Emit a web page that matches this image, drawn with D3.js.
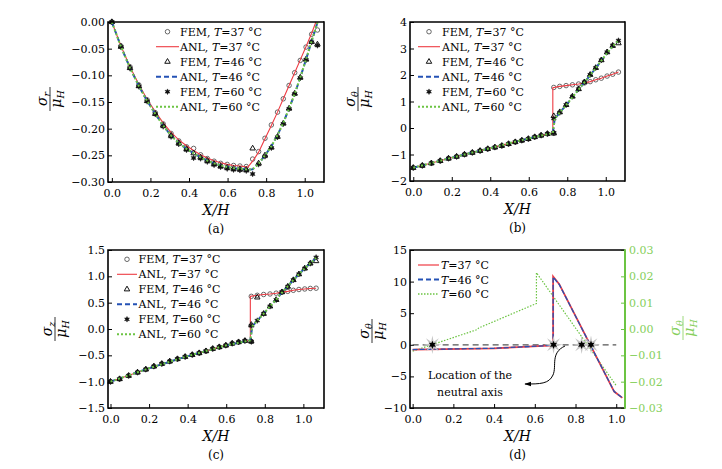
<!DOCTYPE html>
<html><head><meta charset="utf-8">
<script src="https://cdn.jsdelivr.net/npm/d3@7"></script>
<style>body{margin:0;background:#fff}svg{display:block}text{font-family:"DejaVu Serif",serif}</style>
</head><body><svg id="c" width="722" height="469"></svg>
<script>
// ---------------- DATA ----------------
const xTicks = [0, 0.2, 0.4, 0.6, 0.8, 1.0];
const aYTicks = [-0.30, -0.25, -0.20, -0.15, -0.10, -0.05, 0.00];
const bYTicks = [-2, -1, 0, 1, 2, 3, 4];
const cYTicks = [-1.5, -1.0, -0.5, 0.0, 0.5, 1.0, 1.5];
const dYTicks = [-10, -5, 0, 5, 10, 15];
const dY2Ticks = [-0.03, -0.02, -0.01, 0.00, 0.01, 0.02, 0.03];
const legendLabels = ["FEM, ", "ANL, ", "FEM, ", "ANL, ", "FEM, ", "ANL, "];
const temps = ["37", "37", "46", "46", "60", "60"];

// FEM node positions
const femXBefore = [0,.047,.094,.14,.183,.225,.266,.307,.347,.387,.424,.46,.495,.53,.564,.598,.631,.664,.697,.73];
const femXAfter = [.761,.794,.827,.859,.889,.919,.948,.977,1.007,1.036,1.066];
const femXA = femXBefore.concat(femXAfter);
const femXBC = femXBefore.concat([.73], femXAfter);

// (a) sigma_r / mu_H
const aFem37 = [0,-.045,-.084,-.118,-.146,-.17,-.191,-.209,-.223,-.234,-.237,-.249,-.256,-.261,-.265,-.267,-.269,-.27,-.271,-.257,-.243,-.218,-.193,-.169,-.144,-.119,-.095,-.072,-.047,-.023,-.015];
const aFem46 = [0,-.046,-.086,-.12,-.148,-.172,-.194,-.213,-.227,-.238,-.246,-.254,-.26,-.266,-.27,-.273,-.275,-.276,-.277,-.237,-.265,-.25,-.235,-.215,-.19,-.162,-.134,-.104,-.07,-.037,-.042];
const aFem60 = [0,-.047,-.087,-.121,-.149,-.173,-.196,-.215,-.229,-.24,-.255,-.256,-.262,-.268,-.272,-.275,-.277,-.278,-.279,-.285,-.267,-.252,-.236,-.216,-.191,-.163,-.135,-.105,-.071,-.038,-.044];
const aAnl37X = [0,.047,.094,.14,.183,.225,.266,.307,.347,.387,.424,.46,.495,.53,.564,.598,.631,.664,.705,.73,.761,.794,.827,.859,.889,.919,.948,.977,1.007,1.036,1.058];
const aAnl37 = [0,-.045,-.084,-.117,-.145,-.168,-.189,-.207,-.221,-.232,-.241,-.249,-.255,-.26,-.264,-.267,-.269,-.27,-.272,-.261,-.244,-.219,-.194,-.169,-.144,-.119,-.095,-.071,-.046,-.021,0];
const aAnl46X = [0,.047,.094,.14,.183,.225,.266,.307,.347,.387,.424,.46,.495,.53,.564,.598,.631,.664,.705,.73,.761,.794,.827,.859,.889,.919,.948,.977,1.007,1.036,1.067];
const aAnl46 = [0,-.046,-.086,-.12,-.148,-.172,-.194,-.213,-.227,-.238,-.246,-.254,-.26,-.265,-.269,-.272,-.274,-.275,-.277,-.276,-.266,-.25,-.233,-.212,-.189,-.162,-.135,-.104,-.07,-.036,0];
const aAnl60 = [0,-.046,-.086,-.12,-.148,-.172,-.194,-.213,-.227,-.238,-.246,-.254,-.26,-.265,-.269,-.272,-.274,-.275,-.277,-.276,-.266,-.25,-.233,-.212,-.189,-.162,-.135,-.104,-.07,-.036,0];

// (b) sigma_theta / mu_H
const bFem37 = [-1.5,-1.42,-1.33,-1.24,-1.15,-1.08,-1.0,-.93,-.86,-.79,-.73,-.67,-.6,-.53,-.47,-.41,-.34,-.28,-.22,-.2,1.53,1.57,1.6,1.63,1.66,1.7,1.75,1.82,1.88,1.96,2.03,2.11];
const bFem46 = [-1.5,-1.42,-1.33,-1.24,-1.15,-1.08,-1.0,-.93,-.86,-.79,-.73,-.67,-.6,-.53,-.47,-.41,-.34,-.28,-.22,-.2,.45,.6,.87,1.19,1.47,1.73,2.01,2.27,2.56,2.86,3.1,3.2];
const bFem60 = [-1.5,-1.42,-1.33,-1.24,-1.15,-1.08,-1.0,-.93,-.86,-.79,-.73,-.67,-.6,-.53,-.47,-.41,-.34,-.28,-.22,-.18,.36,.58,.87,1.19,1.47,1.73,2.01,2.27,2.56,2.86,3.12,3.3];
const bAnl37X = [0,.2,.4,.6,.725,.725,.761,.794,.827,.859,.889,.919,.948,.977,1.007,1.036,1.066];
const bAnl37 = [-1.5,-1.12,-.76,-.39,-.19,1.52,1.57,1.6,1.63,1.66,1.7,1.75,1.82,1.88,1.96,2.03,2.11];
const bAnl46X = [0,.2,.4,.6,.725,.735,.761,.794,.827,.859,.889,.919,.948,.977,1.007,1.036,1.066];
const bAnl46 = [-1.5,-1.12,-.76,-.39,-.19,.35,.58,.86,1.16,1.45,1.72,1.99,2.26,2.54,2.83,3.08,3.3];
const bAnl60 = [-1.5,-1.12,-.76,-.39,-.19,.35,.58,.86,1.16,1.45,1.72,1.99,2.26,2.54,2.83,3.08,3.3];

// (c) sigma_z / mu_H
const cFem37 = [-1.0,-.95,-.887,-.824,-.767,-.71,-.66,-.615,-.57,-.527,-.49,-.457,-.42,-.375,-.343,-.312,-.275,-.249,-.224,-.236,.62,.64,.655,.665,.68,.70,.715,.735,.75,.76,.77,.775];
const cFem46 = [-1.0,-.95,-.887,-.824,-.767,-.71,-.66,-.615,-.57,-.527,-.49,-.457,-.42,-.375,-.343,-.312,-.275,-.249,-.224,-.236,.08,.60,.29,.43,.553,.70,.805,.93,1.04,1.15,1.245,1.29];
const cFem60 = [-1.0,-.95,-.887,-.824,-.767,-.71,-.66,-.615,-.57,-.527,-.49,-.457,-.42,-.375,-.343,-.312,-.275,-.249,-.224,-.24,.06,.16,.29,.43,.553,.70,.805,.93,1.04,1.15,1.245,1.36];
const cAnl37X = [0,.2,.4,.6,.725,.725,.761,.794,.827,.859,.889,.919,.948,.977,1.007,1.036,1.066];
const cAnl37 = [-1.0,-.745,-.515,-.31,-.215,.62,.64,.655,.665,.68,.70,.715,.735,.75,.76,.77,.775];
const cAnl46X = [0,.2,.4,.6,.725,.735,.761,.794,.827,.859,.889,.919,.948,.977,1.007,1.036,1.066];
const cAnl46 = [-1.0,-.745,-.515,-.31,-.215,.05,.16,.29,.43,.56,.69,.81,.93,1.04,1.15,1.25,1.35];
const cAnl60 = [-1.0,-.745,-.515,-.31,-.215,.05,.16,.29,.43,.56,.69,.81,.93,1.04,1.15,1.25,1.35];

// (d) sigma_theta / mu_H  (37, 46 on left axis; 60 on right axis)
const dX37 = [0,.4,.69,.69,.72,.99,1.03];
const dY37 = [-.75,-.55,-.08,10.8,9.6,-7.4,-8.4];
const dX46 = [0,.4,.69,.69,.72,.99,1.03];
const dY46 = [-.75,-.55,-.08,10.7,9.55,-7.4,-8.4];
const dX60 = [0,.318,.325,.608,.608,1.0];
const dY60 = [-.0084,-.0002,.0004,.0097,.0214,-.0215];
const dNeutral = [.097,.692,.83,.876];
const dZeroLine = [0, 1.0];

// ---------------- DRAW ----------------
const svg = d3.select("#c");
const defs = svg.append("defs");
defs.append("marker").attr("id","arr").attr("viewBox","0 0 10 10").attr("refX",9).attr("refY",5)
  .attr("markerWidth",7).attr("markerHeight",7).attr("orient","auto")
  .append("path").attr("d","M0,1.5 L10,5 L0,8.5 Z").attr("fill","#000");

const RED = "#ee3b43", BLUE = "#2452b5", GREEN = "#6cc443", GREENLT = "#86cf5c";
const FS = 11;
const FONT = "DejaVu Serif, serif";

// n-pointed star symbol types
function starType(n, ratio) {
  return {draw(ctx, size) {
    const R = Math.sqrt(size) * 0.75, r = R * ratio;
    for (let i = 0; i < 2 * n; i++) {
      const a = Math.PI * i / n - Math.PI / 2, rr = i % 2 ? r : R;
      const px = rr * Math.cos(a), py = rr * Math.sin(a);
      if (i === 0) ctx.moveTo(px, py); else ctx.lineTo(px, py);
    }
    ctx.closePath();
  }};
}
const star6 = starType(6, 0.5), star8 = starType(8, 0.35);

function styleAxis(s, color) {
  s.attr("font-family", null).attr("font-size", null);
  s.select(".domain").remove();
  s.selectAll("text").attr("font-family", FONT).attr("font-size", FS).attr("fill", color || "#000");
  s.selectAll("line").attr("stroke", color || "#000").attr("stroke-width", 1);
}

function panel(p) {
  const x = d3.scaleLinear().domain(p.xd).range([p.l, p.l + p.w]);
  const y = d3.scaleLinear().domain(p.yd).range([p.t + p.h, p.t]);
  const g = svg.append("g");
  g.append("g").attr("transform", `translate(0,${p.t + p.h})`)
    .call(d3.axisBottom(x).tickValues(xTicks).tickFormat(d3.format(".1f")).tickSize(-4).tickPadding(7))
    .call(s => styleAxis(s));
  g.append("g").attr("transform", `translate(${p.l},0)`)
    .call(d3.axisLeft(y).tickValues(p.yt).tickFormat(d3.format(p.yf)).tickSize(-4).tickPadding(3))
    .call(s => styleAxis(s));
  g.append("text").attr("x", p.l + p.w / 2).attr("y", p.t + p.h + 33).attr("font-family", FONT)
    .attr("text-anchor", "middle").attr("font-size", 14).attr("font-style", "italic").text("X/H");
  g.append("text").attr("x", p.l + p.w / 2).attr("y", p.t + p.h + 51).attr("font-family", FONT)
    .attr("text-anchor", "middle").attr("font-size", 12).text(p.tag);
  return {x, y, g, p};
}

function frame(P, rightColor) {
  const p = P.p, g = P.g;
  const L = p.l, R = p.l + p.w, T = p.t, B = p.t + p.h;
  g.append("path").attr("d", `M${R},${T} L${L},${T} L${L},${B} L${R},${B}`)
    .attr("fill", "none").attr("stroke", "#000").attr("stroke-width", 1.6);
  g.append("line").attr("x1", R).attr("x2", R).attr("y1", T - 0.8).attr("y2", B + 0.8)
    .attr("stroke", rightColor || "#000").attr("stroke-width", rightColor ? 2 : 1.6);
}

function fracLabel(cx, cy, sub, color) {
  const g = svg.append("g").attr("transform", `translate(${cx},${cy}) rotate(-90)`);
  g.append("line").attr("x1", -12).attr("x2", 12).attr("y1", 0).attr("y2", 0)
    .attr("stroke", color || "#000").attr("stroke-width", 0.8);
  const n = g.append("text").attr("x", 0).attr("y", -3).attr("text-anchor", "middle").attr("font-family", FONT)
    .attr("fill", color || "#000").attr("font-style", "italic");
  n.append("tspan").attr("font-size", 14).text("σ");
  n.append("tspan").attr("font-size", 9.5).attr("dy", 3).text(sub);
  const d = g.append("text").attr("x", 0).attr("y", 10.5).attr("text-anchor", "middle").attr("font-family", FONT)
    .attr("fill", color || "#000").attr("font-style", "italic");
  d.append("tspan").attr("font-size", 14).text("μ");
  d.append("tspan").attr("font-size", 9.5).attr("dy", 3).text("H");
}

const line = (P) => d3.line().x(d => P.x(d[0])).y(d => P.y(d[1]));
const symTri = d3.symbol(d3.symbolTriangle, 13);
const symStar = d3.symbol(star6, 14);
const symCirc = d3.symbol(d3.symbolCircle, 16);

function drawCircles(P, xs, ys) {
  P.g.append("g").selectAll("path").data(d3.zip(xs, ys)).join("path")
    .attr("transform", d => `translate(${P.x(d[0])},${P.y(d[1])})`).attr("d", symCirc)
    .attr("fill", "none").attr("stroke", "#444").attr("stroke-width", 0.8);
}
function drawTris(P, xs, ys) {
  P.g.append("g").selectAll("path").data(d3.zip(xs, ys)).join("path")
    .attr("transform", d => `translate(${P.x(d[0])},${P.y(d[1])})`).attr("d", symTri)
    .attr("fill", "none").attr("stroke", "#111").attr("stroke-width", 1);
}
function drawStars(P, xs, ys) {
  P.g.append("g").selectAll("path").data(d3.zip(xs, ys)).join("path")
    .attr("transform", d => `translate(${P.x(d[0])},${P.y(d[1])})`).attr("d", symStar)
    .attr("fill", "#111").attr("stroke", "#111").attr("stroke-width", 0.5);
}
function drawLine(P, xs, ys, color, w, dash) {
  P.g.append("path").datum(d3.zip(xs, ys)).attr("d", line(P))
    .attr("fill", "none").attr("stroke", color).attr("stroke-width", w)
    .attr("stroke-dasharray", dash || null);
}

function legend6(g, x0, x1, tx, y0) {
  const kinds = ["circle", "red", "tri", "blue", "star", "green"];
  kinds.forEach((k, i) => {
    const yy = y0 + i * 15;
    const mx = (x0 + x1) / 2;
    if (k === "circle") g.append("path").attr("transform", `translate(${mx},${yy})`).attr("d", symCirc).attr("fill", "none").attr("stroke", "#444").attr("stroke-width", 0.8);
    if (k === "tri") g.append("path").attr("transform", `translate(${mx},${yy})`).attr("d", symTri).attr("fill", "none").attr("stroke", "#111").attr("stroke-width", 1);
    if (k === "star") g.append("path").attr("transform", `translate(${mx},${yy})`).attr("d", symStar).attr("fill", "#111").attr("stroke", "#111").attr("stroke-width", 0.5);
    if (k === "red") g.append("line").attr("x1", x0).attr("x2", x1).attr("y1", yy).attr("y2", yy).attr("stroke", RED).attr("stroke-width", 1.1);
    if (k === "blue") g.append("line").attr("x1", x0).attr("x2", x1).attr("y1", yy).attr("y2", yy).attr("stroke", BLUE).attr("stroke-width", 2).attr("stroke-dasharray", "5,3");
    if (k === "green") g.append("line").attr("x1", x0).attr("x2", x1).attr("y1", yy).attr("y2", yy).attr("stroke", GREEN).attr("stroke-width", 2).attr("stroke-dasharray", "2,2");
    const t = g.append("text").attr("x", tx).attr("y", yy + 4).attr("font-size", FS).attr("font-family", FONT);
    t.append("tspan").text(legendLabels[i]);
    t.append("tspan").attr("font-style", "italic").text("T");
    t.append("tspan").text("=" + temps[i] + " °C");
  });
}

function standardPanel(P, femX, f37, f46, f60, x37, a37, x46, a46, a60) {
  drawCircles(P, femX, f37);
  drawLine(P, x37, a37, RED, 1.1);
  drawTris(P, femX, f46);
  drawLine(P, x46, a46, BLUE, 2, "5,3");
  drawStars(P, femX, f60);
  drawLine(P, x46, a60, GREEN, 2, "2,2");
}

// (a)
const A = panel({l:108, t:22, w:216, h:160, xd:[-0.02, 1.10], yd:[-0.30, 0], yt:aYTicks, yf:".2f", tag:"(a)"});
standardPanel(A, femXA, aFem37, aFem46, aFem60, aAnl37X, aAnl37, aAnl46X, aAnl46, aAnl60);
frame(A);
legend6(A.g, 156, 179, 180, 31.7);
fracLabel(50, 99, "r");

// (b)
const B = panel({l:410, t:22, w:215, h:159, xd:[-0.017, 1.10], yd:[-2, 4], yt:bYTicks, yf:"d", tag:"(b)"});
standardPanel(B, femXBC, bFem37, bFem46, bFem60, bAnl37X, bAnl37, bAnl46X, bAnl46, bAnl60);
frame(B);
legend6(B.g, 418, 440, 442, 31.7);
fracLabel(358, 99, "θ");

// (c)
const C = panel({l:108, t:250, w:216, h:158, xd:[-0.013, 1.107], yd:[-1.5, 1.5], yt:cYTicks, yf:".1f", tag:"(c)"});
standardPanel(C, femXBC, cFem37, cFem46, cFem60, cAnl37X, cAnl37, cAnl46X, cAnl46, cAnl60);
frame(C);
legend6(C.g, 117, 137, 138.5, 259.3);
fracLabel(55, 329, "z");

// (d)
const D = panel({l:410, t:250, w:215, h:158, xd:[-0.013, 1.043], yd:[-10, 15], yt:dYTicks, yf:"d", tag:"(d)"});
const y2 = d3.scaleLinear().domain([-0.03, 0.03]).range([408, 250]);
D.g.append("g").attr("transform", `translate(625,0)`)
  .call(d3.axisRight(y2).tickValues(dY2Ticks).tickFormat(d3.format(".2f")).tickSize(-4).tickPadding(4))
  .call(s => styleAxis(s, GREENLT))
  .call(s => s.selectAll("line").attr("stroke", GREEN));
D.g.append("line").attr("x1", D.x(dZeroLine[0])).attr("x2", D.x(dZeroLine[1]))
  .attr("y1", D.y(0)).attr("y2", D.y(0)).attr("stroke", "#555").attr("stroke-width", 1.2).attr("stroke-dasharray", "6,4");
D.g.append("path").datum(d3.zip(dX60, dY60))
  .attr("d", d3.line().x(d => D.x(d[0])).y(d => y2(d[1])))
  .attr("fill", "none").attr("stroke", GREEN).attr("stroke-width", 1.2).attr("stroke-dasharray", "1.5,1.5");
drawLine(D, dX37, dY37, RED, 1.8);
drawLine(D, dX46, dY46, BLUE, 1.3, "5,2");
const halo = d3.symbol(star8, 150), core = d3.symbol(star6, 30);
D.g.append("g").selectAll("path").data(dNeutral).join("path")
  .attr("transform", d => `translate(${D.x(d)},${D.y(0)})`).attr("d", halo).attr("fill", "#c4c4c4");
D.g.append("g").selectAll("path").data(dNeutral).join("path")
  .attr("transform", d => `translate(${D.x(d)},${D.y(0)})`).attr("d", core).attr("fill", "#000");
frame(D, GREEN);
[["37", RED, null, 1.2], ["46", BLUE, "5,3", 2], ["60", GREEN, "1.5,1.5", 1.3]].forEach((r, i) => {
  const yy = 265 + i * 14.5;
  D.g.append("line").attr("x1", 418).attr("x2", 439).attr("y1", yy).attr("y2", yy)
    .attr("stroke", r[1]).attr("stroke-width", r[3]).attr("stroke-dasharray", r[2]);
  const t = D.g.append("text").attr("x", 441).attr("y", yy + 4).attr("font-size", FS).attr("font-family", FONT);
  t.append("tspan").attr("font-style", "italic").text("T");
  t.append("tspan").text("=" + r[0] + " °C");
});
D.g.append("text").attr("x", 470).attr("y", 379).attr("text-anchor", "middle").attr("font-size", FS).attr("font-family", FONT).text("Location of the");
D.g.append("text").attr("x", 470).attr("y", 396).attr("text-anchor", "middle").attr("font-size", FS).attr("font-family", FONT).text("neutral axis");
D.g.append("path").attr("d", "M565,346 C550,353 557,366 553,375 C549,384 540,384 525,384")
  .attr("fill", "none").attr("stroke", "#000").attr("stroke-width", 1).attr("marker-end", "url(#arr)");
fracLabel(372, 331, "θ");
fracLabel(683, 328, "θ", GREENLT);
</script></body></html>
